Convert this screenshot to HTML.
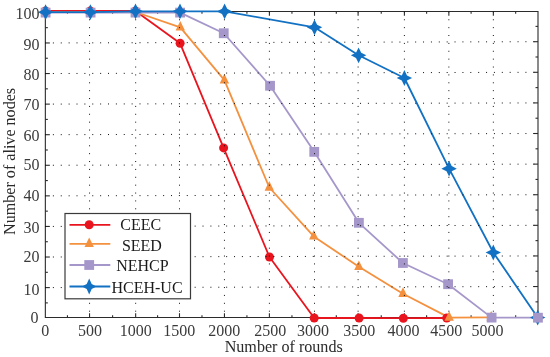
<!DOCTYPE html>
<html><head><meta charset="utf-8"><style>html,body{margin:0;padding:0;background:#fff;width:550px;height:357px;overflow:hidden}svg{display:block;filter:blur(0.3px)}</style></head>
<body><svg width="550" height="357" viewBox="0 0 550 357"><g stroke="#2b2b2b" stroke-width="1.1"><line x1="67.45" y1="317.5" x2="67.45" y2="315.2"/><line x1="67.45" y1="11.5" x2="67.45" y2="13.8"/><line x1="89.55" y1="317.5" x2="89.55" y2="313.2"/><line x1="89.55" y1="11.5" x2="89.55" y2="15.8"/><line x1="112.60" y1="317.5" x2="112.60" y2="315.2"/><line x1="112.60" y1="11.5" x2="112.60" y2="13.8"/><line x1="135.66" y1="317.5" x2="135.66" y2="313.2"/><line x1="135.66" y1="11.5" x2="135.66" y2="15.8"/><line x1="157.58" y1="317.5" x2="157.58" y2="315.2"/><line x1="157.58" y1="11.5" x2="157.58" y2="13.8"/><line x1="179.50" y1="317.5" x2="179.50" y2="313.2"/><line x1="179.50" y1="11.5" x2="179.50" y2="15.8"/><line x1="201.97" y1="317.5" x2="201.97" y2="315.2"/><line x1="201.97" y1="11.5" x2="201.97" y2="13.8"/><line x1="224.45" y1="317.5" x2="224.45" y2="313.2"/><line x1="224.45" y1="11.5" x2="224.45" y2="15.8"/><line x1="246.92" y1="317.5" x2="246.92" y2="315.2"/><line x1="246.92" y1="11.5" x2="246.92" y2="13.8"/><line x1="269.40" y1="317.5" x2="269.40" y2="313.2"/><line x1="269.40" y1="11.5" x2="269.40" y2="15.8"/><line x1="291.95" y1="317.5" x2="291.95" y2="315.2"/><line x1="291.95" y1="11.5" x2="291.95" y2="13.8"/><line x1="314.50" y1="317.5" x2="314.50" y2="313.2"/><line x1="314.50" y1="11.5" x2="314.50" y2="15.8"/><line x1="336.30" y1="317.5" x2="336.30" y2="315.2"/><line x1="336.30" y1="11.5" x2="336.30" y2="13.8"/><line x1="358.10" y1="317.5" x2="358.10" y2="313.2"/><line x1="358.10" y1="11.5" x2="358.10" y2="15.8"/><line x1="381.25" y1="317.5" x2="381.25" y2="315.2"/><line x1="381.25" y1="11.5" x2="381.25" y2="13.8"/><line x1="404.40" y1="317.5" x2="404.40" y2="313.2"/><line x1="404.40" y1="11.5" x2="404.40" y2="15.8"/><line x1="426.62" y1="317.5" x2="426.62" y2="315.2"/><line x1="426.62" y1="11.5" x2="426.62" y2="13.8"/><line x1="448.85" y1="317.5" x2="448.85" y2="313.2"/><line x1="448.85" y1="11.5" x2="448.85" y2="15.8"/><line x1="471.10" y1="317.5" x2="471.10" y2="315.2"/><line x1="471.10" y1="11.5" x2="471.10" y2="13.8"/><line x1="493.35" y1="317.5" x2="493.35" y2="313.2"/><line x1="493.35" y1="11.5" x2="493.35" y2="15.8"/><line x1="515.67" y1="317.5" x2="515.67" y2="315.2"/><line x1="515.67" y1="11.5" x2="515.67" y2="13.8"/><line x1="45.35" y1="302.89" x2="47.85" y2="302.89"/><line x1="538.0" y1="301.85" x2="535.5" y2="301.85"/><line x1="45.35" y1="287.60" x2="49.85" y2="287.60"/><line x1="538.0" y1="286.54" x2="533.5" y2="286.54"/><line x1="45.35" y1="272.31" x2="47.85" y2="272.31"/><line x1="538.0" y1="271.24" x2="535.5" y2="271.24"/><line x1="45.35" y1="257.02" x2="49.85" y2="257.02"/><line x1="538.0" y1="255.94" x2="533.5" y2="255.94"/><line x1="45.35" y1="241.73" x2="47.85" y2="241.73"/><line x1="538.0" y1="240.63" x2="535.5" y2="240.63"/><line x1="45.35" y1="226.44" x2="49.85" y2="226.44"/><line x1="538.0" y1="225.33" x2="533.5" y2="225.33"/><line x1="45.35" y1="211.15" x2="47.85" y2="211.15"/><line x1="538.0" y1="210.03" x2="535.5" y2="210.03"/><line x1="45.35" y1="195.86" x2="49.85" y2="195.86"/><line x1="538.0" y1="194.73" x2="533.5" y2="194.73"/><line x1="45.35" y1="180.57" x2="47.85" y2="180.57"/><line x1="538.0" y1="179.42" x2="535.5" y2="179.42"/><line x1="45.35" y1="165.28" x2="49.85" y2="165.28"/><line x1="538.0" y1="164.12" x2="533.5" y2="164.12"/><line x1="45.35" y1="149.99" x2="47.85" y2="149.99"/><line x1="538.0" y1="148.82" x2="535.5" y2="148.82"/><line x1="45.35" y1="134.70" x2="49.85" y2="134.70"/><line x1="538.0" y1="133.51" x2="533.5" y2="133.51"/><line x1="45.35" y1="119.41" x2="47.85" y2="119.41"/><line x1="538.0" y1="118.21" x2="535.5" y2="118.21"/><line x1="45.35" y1="104.12" x2="49.85" y2="104.12"/><line x1="538.0" y1="102.91" x2="533.5" y2="102.91"/><line x1="45.35" y1="88.83" x2="47.85" y2="88.83"/><line x1="538.0" y1="87.61" x2="535.5" y2="87.61"/><line x1="45.35" y1="73.54" x2="49.85" y2="73.54"/><line x1="538.0" y1="72.30" x2="533.5" y2="72.30"/><line x1="45.35" y1="58.25" x2="47.85" y2="58.25"/><line x1="538.0" y1="57.00" x2="535.5" y2="57.00"/><line x1="45.35" y1="42.96" x2="49.85" y2="42.96"/><line x1="538.0" y1="41.70" x2="533.5" y2="41.70"/><line x1="45.35" y1="27.67" x2="47.85" y2="27.67"/><line x1="538.0" y1="26.39" x2="535.5" y2="26.39"/></g><path d="M45.35,11.5H538.0V317.5H45.35Z" fill="none" stroke="#2b2b2b" stroke-width="1.1"/><polyline points="45.50,11.00 90.30,11.00 135.50,11.00 180.10,43.30 223.60,147.90 269.50,257.00 314.20,318.00 359.10,318.00 403.35,318.20 446.75,318.00" fill="none" stroke="#e8151f" stroke-width="1.8" stroke-linejoin="round"/><polyline points="45.50,12.00 90.30,12.00 135.50,12.00 180.30,27.40 224.40,80.20 269.30,187.50 313.75,236.40 358.90,266.80 403.00,293.70 449.20,317.60 491.20,317.40" fill="none" stroke="#f4913f" stroke-width="1.8" stroke-linejoin="round"/><polyline points="45.60,12.60 90.60,12.60 135.50,12.60 180.10,12.60 223.75,33.25 270.05,85.75 314.25,151.85 358.90,222.80 402.90,263.00 448.10,284.20 491.60,317.60 537.95,317.70" fill="none" stroke="#a697cb" stroke-width="1.8" stroke-linejoin="round"/><polyline points="45.60,12.20 90.40,12.20 135.50,11.30 180.00,11.30 224.60,11.40 314.50,27.30 358.60,55.30 404.40,78.00 449.10,168.70 493.30,252.50 537.70,317.60" fill="none" stroke="#1271c3" stroke-width="1.8" stroke-linejoin="round"/><circle cx="45.50" cy="11.00" r="4.5" fill="#e8151f"/><circle cx="90.30" cy="11.00" r="4.5" fill="#e8151f"/><circle cx="135.50" cy="11.00" r="4.5" fill="#e8151f"/><circle cx="180.10" cy="43.30" r="4.5" fill="#e8151f"/><circle cx="223.60" cy="147.90" r="4.5" fill="#e8151f"/><circle cx="269.50" cy="257.00" r="4.5" fill="#e8151f"/><circle cx="314.20" cy="318.00" r="4.5" fill="#e8151f"/><circle cx="359.10" cy="318.00" r="4.5" fill="#e8151f"/><circle cx="403.35" cy="318.20" r="4.5" fill="#e8151f"/><circle cx="446.75" cy="318.00" r="4.5" fill="#e8151f"/><path d="M45.50,5.60 L50.20,15.20 L40.80,15.20Z" fill="#f4913f"/><path d="M90.30,5.60 L95.00,15.20 L85.60,15.20Z" fill="#f4913f"/><path d="M135.50,5.60 L140.20,15.20 L130.80,15.20Z" fill="#f4913f"/><path d="M180.30,21.00 L185.00,30.60 L175.60,30.60Z" fill="#f4913f"/><path d="M224.40,73.80 L229.10,83.40 L219.70,83.40Z" fill="#f4913f"/><path d="M269.30,181.10 L274.00,190.70 L264.60,190.70Z" fill="#f4913f"/><path d="M313.75,230.00 L318.45,239.60 L309.05,239.60Z" fill="#f4913f"/><path d="M358.90,260.40 L363.60,270.00 L354.20,270.00Z" fill="#f4913f"/><path d="M403.00,287.30 L407.70,296.90 L398.30,296.90Z" fill="#f4913f"/><path d="M449.20,311.20 L453.90,320.80 L444.50,320.80Z" fill="#f4913f"/><path d="M491.20,311.00 L495.90,320.60 L486.50,320.60Z" fill="#f4913f"/><rect x="40.70" y="7.70" width="9.8" height="9.8" fill="#a697cb"/><rect x="85.70" y="7.70" width="9.8" height="9.8" fill="#a697cb"/><rect x="130.60" y="7.70" width="9.8" height="9.8" fill="#a697cb"/><rect x="175.20" y="7.70" width="9.8" height="9.8" fill="#a697cb"/><rect x="218.85" y="28.35" width="9.8" height="9.8" fill="#a697cb"/><rect x="265.15" y="80.85" width="9.8" height="9.8" fill="#a697cb"/><rect x="309.35" y="146.95" width="9.8" height="9.8" fill="#a697cb"/><rect x="354.00" y="217.90" width="9.8" height="9.8" fill="#a697cb"/><rect x="398.00" y="258.10" width="9.8" height="9.8" fill="#a697cb"/><rect x="443.20" y="279.30" width="9.8" height="9.8" fill="#a697cb"/><rect x="486.70" y="312.70" width="9.8" height="9.8" fill="#a697cb"/><g stroke="#111" stroke-width="1" stroke-dasharray="1 6.876"><line x1="89.55" y1="11.4" x2="89.55" y2="318"/><line x1="135.66" y1="11.4" x2="135.66" y2="318"/><line x1="179.50" y1="11.4" x2="179.50" y2="318"/><line x1="224.45" y1="11.4" x2="224.45" y2="318"/><line x1="269.40" y1="11.4" x2="269.40" y2="318"/><line x1="314.50" y1="11.4" x2="314.50" y2="318"/><line x1="358.10" y1="11.4" x2="358.10" y2="318"/><line x1="404.40" y1="11.4" x2="404.40" y2="318"/><line x1="448.85" y1="11.4" x2="448.85" y2="318"/><line x1="493.35" y1="11.4" x2="493.35" y2="318"/><line x1="45" y1="287.60" x2="538" y2="286.54"/><line x1="45" y1="257.02" x2="538" y2="255.94"/><line x1="45" y1="226.44" x2="538" y2="225.33"/><line x1="45" y1="195.86" x2="538" y2="194.73"/><line x1="45" y1="165.28" x2="538" y2="164.12"/><line x1="45" y1="134.70" x2="538" y2="133.51"/><line x1="45" y1="104.12" x2="538" y2="102.91"/><line x1="45" y1="73.54" x2="538" y2="72.30"/><line x1="45" y1="42.96" x2="538" y2="41.70"/></g><path d="M45.60,4.30 L48.20,9.60 L53.30,12.20 L48.20,14.80 L45.60,20.10 L43.00,14.80 L37.90,12.20 L43.00,9.60Z" fill="#1271c3"/><path d="M90.40,4.30 L93.00,9.60 L98.10,12.20 L93.00,14.80 L90.40,20.10 L87.80,14.80 L82.70,12.20 L87.80,9.60Z" fill="#1271c3"/><path d="M135.50,3.40 L138.10,8.70 L143.20,11.30 L138.10,13.90 L135.50,19.20 L132.90,13.90 L127.80,11.30 L132.90,8.70Z" fill="#1271c3"/><path d="M180.00,3.40 L182.60,8.70 L187.70,11.30 L182.60,13.90 L180.00,19.20 L177.40,13.90 L172.30,11.30 L177.40,8.70Z" fill="#1271c3"/><path d="M224.60,3.50 L227.20,8.80 L232.30,11.40 L227.20,14.00 L224.60,19.30 L222.00,14.00 L216.90,11.40 L222.00,8.80Z" fill="#1271c3"/><path d="M314.50,19.40 L317.10,24.70 L322.20,27.30 L317.10,29.90 L314.50,35.20 L311.90,29.90 L306.80,27.30 L311.90,24.70Z" fill="#1271c3"/><path d="M358.60,47.40 L361.20,52.70 L366.30,55.30 L361.20,57.90 L358.60,63.20 L356.00,57.90 L350.90,55.30 L356.00,52.70Z" fill="#1271c3"/><path d="M404.40,70.10 L407.00,75.40 L412.10,78.00 L407.00,80.60 L404.40,85.90 L401.80,80.60 L396.70,78.00 L401.80,75.40Z" fill="#1271c3"/><path d="M449.10,160.80 L451.70,166.10 L456.80,168.70 L451.70,171.30 L449.10,176.60 L446.50,171.30 L441.40,168.70 L446.50,166.10Z" fill="#1271c3"/><path d="M493.30,244.60 L495.90,249.90 L501.00,252.50 L495.90,255.10 L493.30,260.40 L490.70,255.10 L485.60,252.50 L490.70,249.90Z" fill="#1271c3"/><path d="M537.70,309.70 L540.30,315.00 L545.40,317.60 L540.30,320.20 L537.70,325.50 L535.10,320.20 L530.00,317.60 L535.10,315.00Z" fill="#1271c3"/><rect x="533.05" y="312.80" width="9.8" height="9.8" fill="#a697cb"/><g font-family="Liberation Serif, serif" font-size="16" fill="#3a3a3a"><text x="45.25" y="335.6" text-anchor="middle">0</text><text x="90.00" y="335.6" text-anchor="middle">500</text><text x="135.70" y="335.6" text-anchor="middle">1000</text><text x="179.20" y="335.6" text-anchor="middle">1500</text><text x="224.35" y="335.6" text-anchor="middle">2000</text><text x="270.35" y="335.6" text-anchor="middle">2500</text><text x="313.05" y="335.6" text-anchor="middle">3000</text><text x="359.15" y="335.6" text-anchor="middle">3500</text><text x="403.45" y="335.6" text-anchor="middle">4000</text><text x="446.20" y="335.6" text-anchor="middle">4500</text><text x="487.60" y="335.6" text-anchor="middle">5000</text><text x="38.6" y="322.57" text-anchor="end">0</text><text x="39.4" y="294.57" text-anchor="end">10</text><text x="39.4" y="262.12" text-anchor="end">20</text><text x="39.4" y="232.92" text-anchor="end">30</text><text x="39.4" y="201.42" text-anchor="end">40</text><text x="39.4" y="170.42" text-anchor="end">50</text><text x="39.4" y="141.22" text-anchor="end">60</text><text x="39.4" y="109.92" text-anchor="end">70</text><text x="39.4" y="79.67" text-anchor="end">80</text><text x="39.4" y="50.02" text-anchor="end">90</text><text x="39.4" y="19.22" text-anchor="end">100</text></g><text x="283.7" y="351.9" text-anchor="middle" font-family="Liberation Serif, serif" font-size="16.1" fill="#2a2a2a">Number of rounds</text><text transform="translate(14.6,161.4) rotate(-90)" text-anchor="middle" font-family="Liberation Serif, serif" font-size="16.1" fill="#2a2a2a">Number of alive nodes</text><rect x="65.0" y="213.5" width="125.5" height="85.3" fill="#fff" stroke="#3a3a3a" stroke-width="1.2"/><line x1="69.5" y1="224.8" x2="110.3" y2="224.8" stroke="#e8151f" stroke-width="1.8"/><circle cx="89.20" cy="224.80" r="4.5" fill="#e8151f"/><text x="140.8" y="230.4" text-anchor="middle" font-family="Liberation Serif, serif" font-size="16" fill="#1a1a1a">CEEC</text><line x1="69.5" y1="243.8" x2="110.3" y2="243.8" stroke="#f4913f" stroke-width="1.8"/><path d="M89.20,237.40 L93.90,247.00 L84.50,247.00Z" fill="#f4913f"/><text x="141.9" y="250.6" text-anchor="middle" font-family="Liberation Serif, serif" font-size="16" fill="#1a1a1a">SEED</text><line x1="69.5" y1="265.0" x2="110.3" y2="265.0" stroke="#a697cb" stroke-width="1.8"/><rect x="84.30" y="260.10" width="9.8" height="9.8" fill="#a697cb"/><text x="142.4" y="270.6" text-anchor="middle" font-family="Liberation Serif, serif" font-size="16" fill="#1a1a1a">NEHCP</text><line x1="69.5" y1="286.5" x2="110.3" y2="286.5" stroke="#1271c3" stroke-width="1.8"/><path d="M89.20,278.60 L91.70,284.00 L96.40,286.50 L91.70,289.00 L89.20,294.40 L86.70,289.00 L82.00,286.50 L86.70,284.00Z" fill="#1271c3"/><text x="147.0" y="292.5" text-anchor="middle" font-family="Liberation Serif, serif" font-size="16" fill="#1a1a1a">HCEH-UC</text></svg></body></html>
